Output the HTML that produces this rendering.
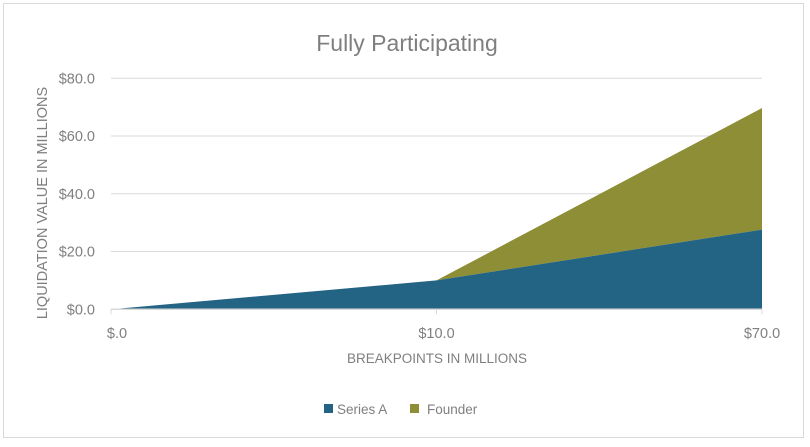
<!DOCTYPE html>
<html><head><meta charset="utf-8"><style>
body{margin:0;background:#fff;}
svg text{font-family:"Liberation Sans",sans-serif;fill:#7f7f7f;}
</style></head><body>
<svg width="810" height="442" viewBox="0 0 810 442">
<rect x="3.5" y="3.5" width="800" height="434" fill="#fff" stroke="#d9d9d9"/>
<text x="407" y="51" font-size="23" text-anchor="middle">Fully Participating</text>
<g id="grid"></g><g id="areas"></g><g id="axes"></g>
<text transform="translate(47,203) rotate(-90)" font-size="14.5" text-anchor="middle">LIQUIDATION VALUE IN MILLIONS</text>
<text x="437" y="363" font-size="13.5" text-anchor="middle">BREAKPOINTS IN MILLIONS</text>
<g>
<rect x="324" y="404" width="9" height="9" fill="#236384"/>
<text x="337" y="414" font-size="13.5">Series A</text>
<rect x="410" y="404" width="9" height="9" fill="#8e8e37"/>
<text x="427" y="414" font-size="13.5">Founder</text>
</g>
</svg>
<script>
const categories = ["$.0", "$10.0", "$70.0"];
const seriesA = [0, 10, 27.6];
const founder = [0, 0, 42.1];
const yTicks = [0, 20, 40, 60, 80];
const yTickLabels = ["$0.0", "$20.0", "$40.0", "$60.0", "$80.0"];

const NS = "http://www.w3.org/2000/svg";
const x0 = 111, x1 = 762, yBase = 309.3, yTop = 78.3, yMax = 80;
function xs(i){ return x0 + i * (x1 - x0) / (categories.length - 1); }
function ys(v){ return yBase - v / yMax * (yBase - yTop); }
function mk(tag, attrs, parent){ const e = document.createElementNS(NS, tag); for (const k in attrs) e.setAttribute(k, attrs[k]); parent.appendChild(e); return e; }

const grid = document.getElementById("grid");
const axes = document.getElementById("axes");
const areas = document.getElementById("areas");
yTicks.forEach((t, i) => {
  const l = mk("line", {x1: x0, x2: x1, y1: ys(t), y2: ys(t), stroke: "#d9d9d9", "stroke-width": 1}, grid);
  
  
  const tx = mk("text", {x: 95, y: ys(t) + 5, "font-size": 14.5, "text-anchor": "end"}, axes);
  tx.textContent = yTickLabels[i];
  
  
});
const aTop = seriesA.map((v, i) => [xs(i), ys(v)]);
const fTop = seriesA.map((v, i) => [xs(i), ys(v + founder[i])]);
let dA = "M" + xs(0) + "," + yBase + " " + aTop.map(p => "L" + p[0] + "," + p[1]).join(" ") + " L" + xs(categories.length - 1) + "," + yBase + " Z";
let dF = "M" + fTop.map(p => p[0] + "," + p[1]).join(" L") + " " + aTop.slice().reverse().map(p => "L" + p[0] + "," + p[1]).join(" ") + " Z";
const pF = mk("path", {d: dF, fill: "#8e8e37"}, areas);


const pA = mk("path", {d: dA, fill: "#236384"}, areas);


const ax = mk("line", {x1: x0, x2: x1, y1: yBase, y2: yBase, stroke: "#d9d9d9", "stroke-width": 1.5}, axes);


categories.forEach((c, i) => {
  const tk = mk("line", {x1: xs(i), x2: xs(i), y1: yBase, y2: yBase + 5, stroke: "#d9d9d9"}, axes);
  
  
  const tx = mk("text", {x: xs(i) + (i === 0 ? 6 : 0), y: 338, "font-size": 14.5, "text-anchor": "middle"}, axes);
  tx.textContent = c;
  
  
});
</script>
</body></html>
